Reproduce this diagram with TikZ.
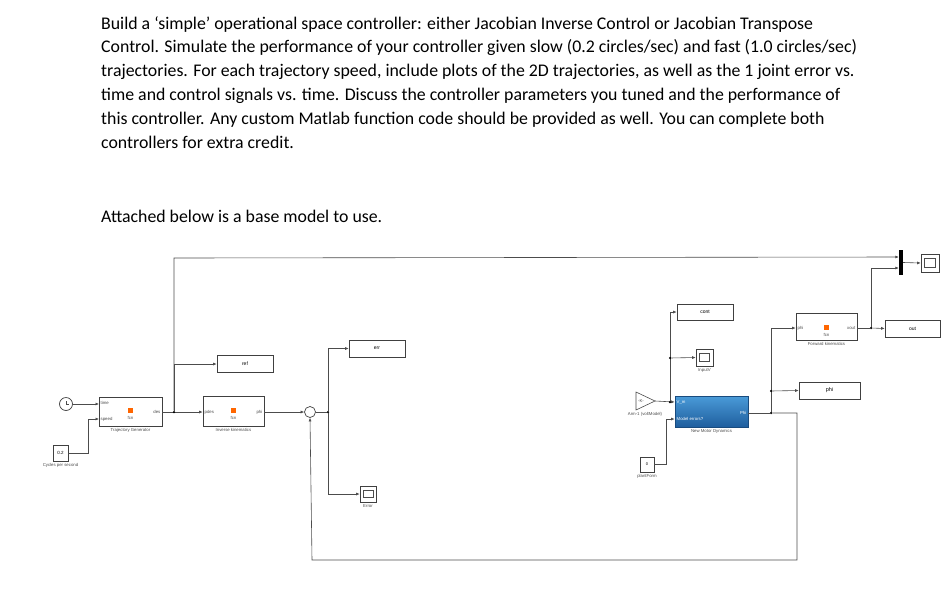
\documentclass[tikz,border=0pt]{standalone}
\usepackage{fontspec}
\setmainfont{Carlito}
\newfontfamily\smf{Liberation Sans}
\usetikzlibrary{arrows.meta}
\definecolor{mtop}{HTML}{4A9BD8}
\definecolor{mbot}{HTML}{1F5E9E}
\begin{document}
\begin{tikzpicture}[x=1pt,y=-1pt,
  ln/.style={draw=black!70,line width=0.6pt},
  ar/.style={ln,-{Latex[length=3.5pt,width=3pt]}},
  blk/.style={draw=black!75,line width=0.7pt,fill=white,inner sep=0},
  tiny/.style={font=\smf\fontsize{4.3}{4.3}\selectfont,text=black!70,inner sep=0.5pt},
  dot/.style={circle,fill=black,inner sep=0,minimum size=2.5pt},
  mico/.style={fill=orange!80!red,minimum size=5pt,inner sep=0}]
\useasboundingbox (0,0) rectangle (951,603);
\node[anchor=north west,align=left,font=\fontsize{17.8}{23.8}\selectfont,inner sep=0] (para) at (101,16)
{Build a ‘simple’ operational space controller: either Jacobian Inverse Control or Jacobian Transpose\\
Control. Simulate the performance of your controller given slow (0.2 circles/sec) and fast (1.0 circles/sec)\\
trajectories. For each trajectory speed, include plots of the 2D trajectories, as well as the 1 joint error vs.\\
time and control signals vs. time. Discuss the controller parameters you tuned and the performance of\\
this controller. Any custom Matlab function code should be provided as well. You can complete both\\
controllers for extra credit.};
\node[anchor=west,font=\fontsize{17.8}{20}\selectfont,inner sep=0] (att) at (101,216) {Attached below is a base model to use.};
% blocks
\node[circle,blk,minimum size=13pt] (clk) at (66,404) {};
\draw[ln] (clk.center) -- ++(0,-3.5) (clk.center) -- ++(3,0);
\node[blk,minimum width=15pt,minimum height=16pt] (c02) at (60.5,453) {\smf\fontsize{4.5}{4.5}\selectfont 0.2};
\node[tiny,below=1pt] (c02l) at (c02.south) {Cycles per second};
\node[blk,minimum width=63pt,minimum height=29pt] (traj) at (130.5,411.5) {};
\node[tiny,anchor=west] (tt) at (100,403) {time};
\node[tiny,anchor=west] (ts) at (100,419) {speed};
\node[tiny,anchor=east] (td) at (161,412) {des};
\node[tiny] (tf) at (130.5,418) {fcn};
\node[mico] (ti) at (130.5,410) {};
\node[tiny,below=1.5pt] (tl) at (traj.south) {Trajectory Generator};
\node[blk,minimum width=61pt,minimum height=30pt] (ik) at (233.5,411) {};
\node[tiny,anchor=west] (ip) at (204,412) {pdes};
\node[tiny,anchor=east] (iph) at (263,412) {phi};
\node[tiny] (if) at (233.5,418) {fcn};
\node[mico] (ii) at (233.5,410) {};
\node[tiny,below=1.5pt] (il) at (ik.south) {Inverse kinematics};
\node[blk,minimum width=56pt,minimum height=17pt] (ref) at (245,364) {\smf\fontsize{5}{5}\selectfont ref};
\node[circle,blk,minimum size=11pt] (sum) at (310,412) {};
\node[blk,minimum width=56pt,minimum height=17pt] (err) at (377,348.5) {\smf\fontsize{5}{5}\selectfont err};
\node[blk,minimum width=16pt,minimum height=16pt] (escope) at (368,494) {};
\draw[ln] (363,490) rectangle (373,497);
\node[tiny,below=1pt] (el) at (escope.south) {Error};
\draw[ln,fill=white] (636,392) -- (655,401) -- (636,410) -- cycle;
\node[tiny] (gk) at (641,401) {-K-};
\node[tiny,below=2pt] (gl) at (645,410) {Arm-1 (voltModel)};
\node[blk,minimum width=14pt,minimum height=15pt] (c0) at (647,464.5) {\smf\fontsize{4}{4}\selectfont 0};
\node[tiny,below=1pt] (c0l) at (c0.south) {plantForm};
\node[draw=mbot!80!black,line width=0.7pt,top color=mtop,bottom color=mbot,minimum width=73pt,minimum height=31pt,inner sep=0] (mot) at (711.5,411.5) {};
\node[tiny,anchor=west,text=white] (mv) at (676,402) {V\_m};
\node[tiny,anchor=west,text=white] (me) at (676,419) {Model errors?};
\node[tiny,anchor=east,text=white] (mp) at (747,413) {Phi};
\node[tiny,below=1.5pt] (ml) at (mot.south) {New Motor Dynamics};
\node[blk,minimum width=56pt,minimum height=16pt] (cont) at (705,312) {\smf\fontsize{5}{5}\selectfont cont};
\node[blk,minimum width=17pt,minimum height=17pt] (iv) at (704.5,357.5) {};
\draw[ln] (699.5,353) rectangle (709.5,361);
\node[tiny,below=1pt] (ivl) at (iv.south) {InputV};
\node[blk,minimum width=61pt,minimum height=27pt] (fk) at (826.5,326.5) {};
\node[tiny,anchor=west] (fp) at (797,328) {phi};
\node[tiny,anchor=east] (fx) at (856,328) {xout};
\node[tiny] (ff) at (826.5,335) {fcn};
\node[mico] (fi) at (826.5,327) {};
\node[tiny,below=1.5pt] (fl) at (fk.south) {Forward kinematics};
\node[blk,minimum width=61pt,minimum height=17pt] (phi) at (829.5,390.5) {\smf\fontsize{5.5}{5.5}\selectfont phi};
\node[blk,minimum width=55pt,minimum height=17pt] (out) at (912.5,328.5) {\smf\fontsize{5}{5}\selectfont out};
\node[fill=black,minimum width=4pt,minimum height=25pt,inner sep=0] (mux) at (901,262.5) {};
\node[blk,minimum width=18pt,minimum height=18pt] (sc) at (930,263) {};
\draw[ln] (924.5,258.5) rectangle (935.5,267.5);
% connectors
\draw[ar] (clk.east) -- (99,404);
\draw[ar] (c02.east) -- (88,453) -- (88,419) -- (99,419);
\draw[ar] (traj.east |- 0,412) -- (ik.west |- 0,412);
\node[dot] (d1) at (174,412) {};
\draw[ar] (d1) |- (ref.west);
\draw[ar] (d1) -- (174,258) -- (mux.west |- 0,257);
\draw[ar] (ik.east |- 0,412) -- (sum.west);
\node[dot] (d2) at (328,412) {};
\draw[ln] (sum.east) -- (d2);
\draw[ar] (d2) |- (err.west);
\draw[ar] (d2) |- (escope.west);
\draw[ar] (655,401) -- (mot.west |- 0,402);
\node[dot] (d3) at (670,402) {};
\draw[ar] (d3) |- (cont.west);
\node[dot] (d4) at (670,358) {};
\draw[ar] (d4) -- (iv.west);
\draw[ar] (c0.east) -- (666,464.5) -- (666,419) -- (mot.west |- 0,419);
\node[dot] (d5) at (771,413) {};
\draw[ln] (mot.east |- 0,413) -- (d5);
\draw[ar] (d5) |- (fk.west |- 0,328);
\node[dot] (d6) at (771,391) {};
\draw[ar] (d6) -- (phi.west);
\draw[ar] (d5) -- (797,413) -- (797,560) -- (312,560) -- (sum.south);
\node[dot] (d7) at (871,328) {};
\draw[ln] (fk.east |- 0,328) -- (d7);
\draw[ar] (d7) -- (out.west);
\draw[ar] (d7) |- (mux.west |- 0,268);
\draw[ar] (mux.east) -- (sc.west);
\end{tikzpicture}
\end{document}
